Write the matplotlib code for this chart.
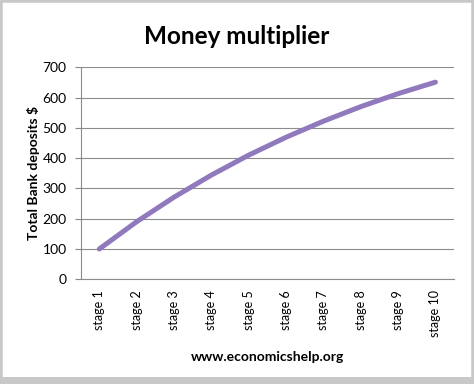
import matplotlib.pyplot as plt
from matplotlib.patches import Rectangle

# -- chart data --
stages = ['stage 1', 'stage 2', 'stage 3', 'stage 4', 'stage 5',
          'stage 6', 'stage 7', 'stage 8', 'stage 9', 'stage 10']
deposits = [100, 190, 271, 344, 410, 469, 522, 570, 613, 651]
y_ticks = [0, 100, 200, 300, 400, 500, 600, 700]

plt.rcParams['font.family'] = ['Lato', 'DejaVu Sans']

fig = plt.figure(figsize=(4.74, 3.84), dpi=100)
ax = fig.add_axes([0.170, 0.2727, 0.788, 0.552])

x = range(len(stages))
ax.plot(x, deposits, color='#9079bc', linewidth=3.6, solid_capstyle='round', zorder=3)

ax.set_xlim(-0.5, len(stages) - 0.5)
ax.set_ylim(0, 700)
ax.set_yticks(y_ticks)
ax.set_xticks(list(x))
ax.set_xticklabels(stages, rotation=90, fontsize=9)
ax.tick_params(axis='y', labelsize=10, length=4, color='#888888', pad=6)
ax.tick_params(axis='x', length=0, pad=8)

ax.grid(axis='y', color='#8c8c8c', linewidth=0.8)
ax.set_axisbelow(True)
for side in ['top', 'right']:
    ax.spines[side].set_visible(False)
for side in ['left', 'bottom']:
    ax.spines[side].set_color('#8c8c8c')
    ax.spines[side].set_linewidth(0.8)

ax.set_ylabel('Total Bank deposits $', fontsize=10, fontweight='bold', labelpad=2)
ax.set_xlabel('www.economicshelp.org', fontsize=10, fontweight='bold', labelpad=10)
fig.text(0.5, 0.905, 'Money multiplier', ha='center', va='center',
         fontsize=17.5, fontweight='bold')

# grey frame around the picture
fig.patches.append(Rectangle((0, 0), 1, 1, transform=fig.transFigure,
                             fill=False, edgecolor='#c8c8c8', linewidth=4))
fig.patches.append(Rectangle((0, 0), 1, 0.018, transform=fig.transFigure,
                             facecolor='#c8c8c8', edgecolor='none'))

fig.savefig('out.png', dpi=100)
